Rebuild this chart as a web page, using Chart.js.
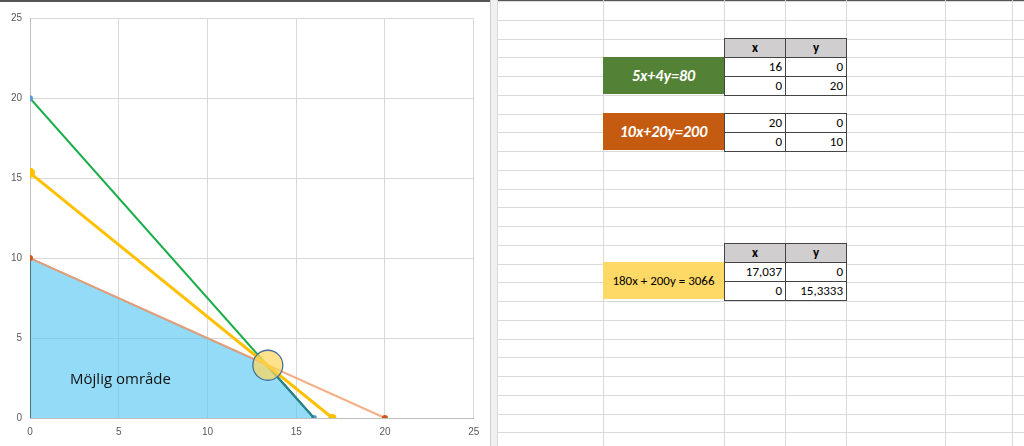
<!DOCTYPE html>
<html><head><meta charset="utf-8">
<script src="https://cdn.jsdelivr.net/npm/chart.js@4"></script>
<style>
html,body{margin:0;padding:0;width:1024px;height:446px;overflow:hidden;background:#fff;font-family:Calibri,Carlito,"Open Sans",sans-serif}
#topline{position:absolute;left:0;top:0;width:1024px;height:2px;background:#555}
#chartbox{position:absolute;left:0;top:2px;width:490px;height:444px}
#sep{position:absolute;left:490px;top:0;width:7px;height:446px;background:#f0f0f0;border-left:1px solid #d0d0d0}
.h{position:absolute;left:497px;width:527px;height:1px;background:#dadada}
.v{position:absolute;top:0;width:1px;height:446px;background:#dadada}
.c{position:absolute;box-sizing:border-box;font-size:13px;line-height:18px;text-align:right;padding-right:3px;background:#fff;color:#000}
.b{border:1px solid #444}
.hd{background:#d0cece;text-align:center;font-weight:bold;padding:0}
.lab{position:absolute;box-sizing:border-box;display:flex;align-items:center;justify-content:center;font-size:15px}
</style></head><body>
<div id="topline"></div>
<div id="chartbox"><canvas id="c" width="490" height="444"></canvas></div>
<div id="sep"></div>
<div id="sheet"></div>
<script>
// data
const greenX=[0,16], greenY=[20,0];           // 5x+4y=80
const orangeX=[0,20], orangeY=[10,0];         // 10x+20y=200
const yellowX=[0,17.037], yellowY=[15.3333,0];// 180x+200y=3066
const regionX=[0,13.33,16], regionY=[10,3.33,0];
const optX=[13.4], optY=[3.3];
const tickVals=[0,5,10,15,20,25];
const pts=(xs,ys)=>xs.map((x,i)=>({x:x,y:ys[i]}));

const labelPlugin={id:'lab',afterDatasetsDraw(ch){
  const c=ch.ctx,xs=ch.scales.x,ys=ch.scales.y;
  c.save();c.fillStyle='#111';c.font='15px "Open Sans",sans-serif';c.textAlign='center';c.textBaseline='middle';
  c.fillText('Möjlig område',xs.getPixelForValue(5.1),ys.getPixelForValue(2.4));c.restore();}};

new Chart(document.getElementById('c'),{
 type:'scatter',
 data:{datasets:[
  {type:'bubble',data:[{x:optX[0],y:optY[0],r:15}],backgroundColor:'rgba(255,214,90,0.7)',borderColor:'#41719c',borderWidth:1.3,order:0},
  {data:pts(regionX,regionY),showLine:true,fill:'origin',backgroundColor:'rgba(91,200,245,0.65)',borderColor:'#4a6f8a',borderWidth:1.5,pointRadius:0,order:5},
  {data:pts([0,0],[0,10]),showLine:true,borderColor:'#4a6f8a',borderWidth:2,pointRadius:0,order:4},
  {data:pts(orangeX,orangeY),showLine:true,borderColor:'rgba(244,164,120,0.9)',borderWidth:2,pointRadius:3,pointBackgroundColor:'#d0561b',pointBorderWidth:0,order:3},
  {data:pts(greenX,greenY),showLine:true,borderColor:'#1aae4a',borderWidth:2,pointRadius:3,pointBackgroundColor:'#5b9bd5',pointBorderWidth:0,order:2},
  {data:pts(yellowX,yellowY),showLine:true,borderColor:'#ffc000',borderWidth:3,pointRadius:[5,4],pointBackgroundColor:'#ffc000',pointBorderWidth:0,order:1},
  {data:pts([13.33,16],[3.33,0]),showLine:true,borderColor:'#2a7f8f',borderWidth:2,pointRadius:0,order:1}
 ]},
 options:{responsive:false,animation:false,
  layout:{padding:{top:13,right:13,left:0,bottom:0}},
  plugins:{legend:{display:false},tooltip:{enabled:false}},
  scales:{
   x:{type:'linear',min:0,max:25,afterBuildTicks:a=>{a.ticks=tickVals.map(v=>({value:v}))},
      grid:{color:'#d9d9d9',drawTicks:false},border:{color:'#bfbfbf'},
      ticks:{color:'#595959',font:{size:10},padding:8},afterFit:a=>{a.height=28}},
   y:{type:'linear',min:0,max:25,afterBuildTicks:a=>{a.ticks=tickVals.map(v=>({value:v}))},
      grid:{color:'#d9d9d9',drawTicks:false},border:{color:'#bfbfbf'},
      ticks:{color:'#595959',font:{size:10},padding:8},afterFit:a=>{a.width=30}}
  }},
 plugins:[labelPlugin]
});

// spreadsheet
const sheet=document.getElementById('sheet');
const add=(cls,st,txt)=>{const d=document.createElement('div');d.className=cls;Object.assign(d.style,st);if(txt!==undefined)d.textContent=txt;sheet.appendChild(d);return d;};
for(let i=0;i<24;i++)add('h',{top:(1+i*18.75)+'px'});
[497,603,724,785,846,945,1012].forEach(x=>add('v',{left:x+'px'}));
function table(top,rows,header){
  let y=top;
  if(header){add('c b hd',{left:'724px',top:y+'px',width:'62px',height:'20px'},'x');add('c b hd',{left:'785px',top:y+'px',width:'62px',height:'20px'},'y');y+=19;}
  rows.forEach(r=>{add('c b',{left:'724px',top:y+'px',width:'62px',height:'20px'},r[0]);add('c b',{left:'785px',top:y+'px',width:'62px',height:'20px'},r[1]);y+=18.5;});
}
table(38,[['16','0'],['0','20']],true);
add('lab',{left:'603px',top:'57px',width:'121px',height:'37px',background:'#538135',color:'#fff',fontStyle:'italic',fontWeight:'bold',fontSize:'16px'},'5x+4y=80');
table(113,[['20','0'],['0','10']],false);
add('lab',{left:'603px',top:'113px',width:'121px',height:'37px',background:'#c55a11',color:'#fff',fontStyle:'italic',fontWeight:'bold',fontSize:'16px'},'10x+20y=200');
table(243,[['17,037','0'],['0','15,3333']],true);
add('lab',{left:'603px',top:'262px',width:'121px',height:'37px',background:'#ffd966',color:'#000',fontSize:'13px'},'180x + 200y = 3066');
</script>
</body></html>
